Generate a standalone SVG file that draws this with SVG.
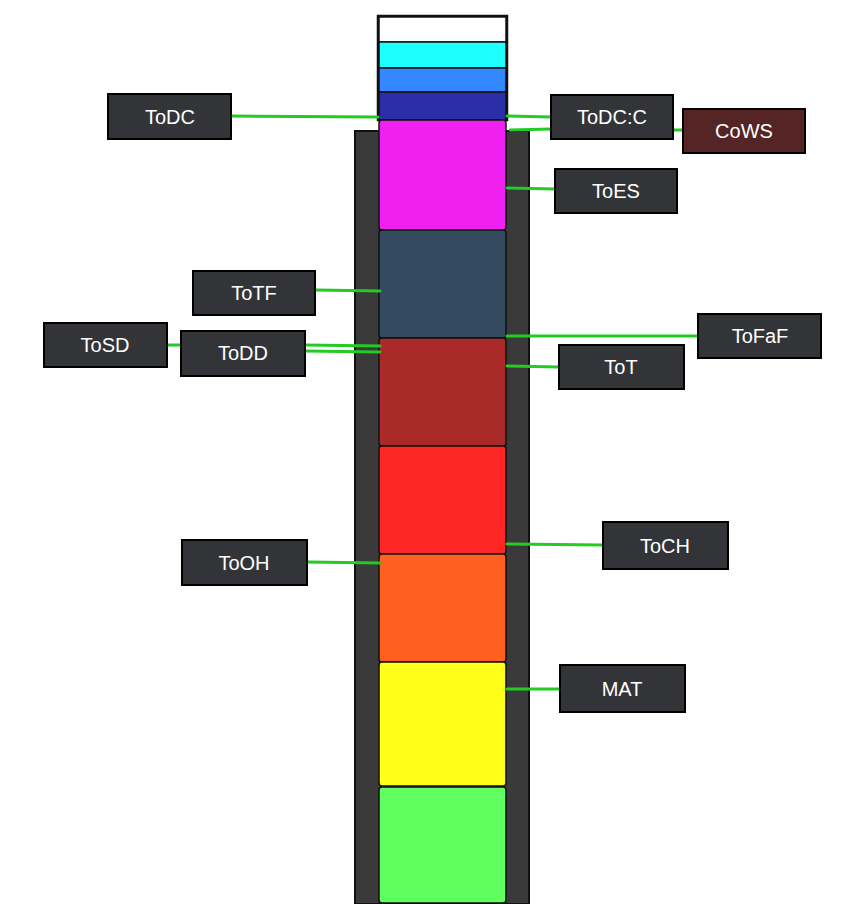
<svg xmlns="http://www.w3.org/2000/svg" width="862" height="904" viewBox="0 0 862 904">
<style>
.node rect{fill:#333438;stroke:#000;stroke-width:2}
.node text{fill:#fff;font-family:"Comic Sans MS","Liberation Sans",sans-serif;font-size:20px;text-anchor:middle;dominant-baseline:central}
.blk{stroke:#111;stroke-width:1.5}
#connectors line{stroke:#22cc22;stroke-width:3;stroke-linecap:round}
</style>
<rect width="862" height="904" fill="#fff"/>
<g id="column">
<rect x="355" y="131" width="174" height="773" fill="#3a3a3a" stroke="#111" stroke-width="2"/>
<rect x="378" y="16" width="129" height="104" fill="#fff" stroke="#111" stroke-width="2.5"/>
<rect class="blk" x="379" y="17" width="127" height="25" fill="#ffffff"/>
<rect class="blk" x="379" y="42" width="127" height="26" fill="#1effff"/>
<rect class="blk" x="379" y="68" width="127" height="24" fill="#3388ff"/>
<rect class="blk" x="379" y="92" width="127" height="28" fill="#2a2fa8"/>
<rect class="blk" x="379" y="120" width="127" height="110" rx="3" fill="#f020f0"/>
<rect class="blk" x="379" y="230" width="127" height="108" rx="3" fill="#344a5e"/>
<rect class="blk" x="379" y="338" width="127" height="108" rx="3" fill="#aa2a2a"/>
<rect class="blk" x="379" y="446" width="127" height="108" rx="3" fill="#ff2626"/>
<rect class="blk" x="379" y="554" width="127" height="108" rx="3" fill="#ff6020"/>
<rect class="blk" x="379" y="662" width="127" height="124" rx="3" fill="#ffff1a"/>
<rect class="blk" x="379" y="787" width="127" height="116" rx="3" fill="#60ff60"/>
</g>
<g id="connectors">
<line x1="231" y1="116" x2="378" y2="117"/>
<line x1="507" y1="116" x2="551" y2="117"/>
<line x1="510" y1="130" x2="551" y2="129"/>
<line x1="673" y1="130" x2="683" y2="130"/>
<line x1="507" y1="188" x2="555" y2="189"/>
<line x1="315" y1="290" x2="380" y2="291"/>
<line x1="167" y1="345" x2="181" y2="345"/>
<line x1="305" y1="345" x2="380" y2="346"/>
<line x1="305" y1="351" x2="380" y2="352"/>
<line x1="507" y1="336" x2="698" y2="336"/>
<line x1="507" y1="366" x2="559" y2="367"/>
<line x1="307" y1="562" x2="380" y2="563"/>
<line x1="507" y1="544" x2="603" y2="545"/>
<line x1="507" y1="689" x2="560" y2="689"/>
</g>
<g id="ToDC" class="node"><rect x="108" y="94" width="123" height="45"/><text x="170" y="117">ToDC</text></g>
<g id="ToDC_C" class="node"><rect x="551" y="95" width="122" height="44"/><text x="612" y="117">ToDC:C</text></g>
<g id="CoWS" class="node"><rect x="683" y="109" width="122" height="44" style="fill:#552526"/><text x="744" y="131">CoWS</text></g>
<g id="ToES" class="node"><rect x="555" y="169" width="122" height="44"/><text x="616" y="191">ToES</text></g>
<g id="ToTF" class="node"><rect x="193" y="271" width="122" height="44"/><text x="254" y="293">ToTF</text></g>
<g id="ToSD" class="node"><rect x="44" y="323" width="123" height="44"/><text x="105" y="345">ToSD</text></g>
<g id="ToDD" class="node"><rect x="181" y="331" width="124" height="45"/><text x="243" y="353">ToDD</text></g>
<g id="ToFaF" class="node"><rect x="698" y="314" width="123" height="44"/><text x="760" y="336">ToFaF</text></g>
<g id="ToT" class="node"><rect x="559" y="345" width="125" height="44"/><text x="621" y="367">ToT</text></g>
<g id="ToOH" class="node"><rect x="182" y="540" width="125" height="45"/><text x="244" y="563">ToOH</text></g>
<g id="ToCH" class="node"><rect x="603" y="522" width="125" height="47"/><text x="665" y="546">ToCH</text></g>
<g id="MAT" class="node"><rect x="560" y="665" width="125" height="47"/><text x="622" y="689">MAT</text></g>
</svg>
